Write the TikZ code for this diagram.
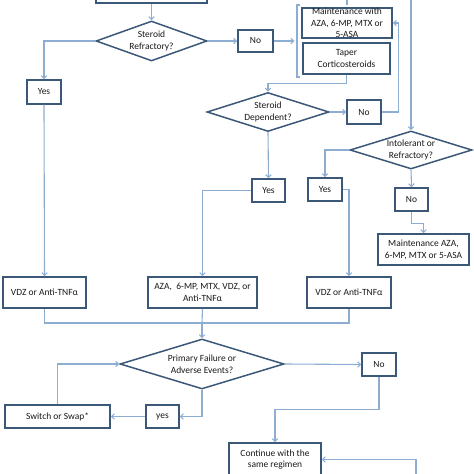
\documentclass[tikz,border=0pt]{standalone}
\usepackage{fontspec}
\setmainfont{Carlito}
\usetikzlibrary{shapes.geometric,arrows.meta}
\definecolor{boxc}{HTML}{3B5878}
\definecolor{linec}{HTML}{8EADD3}
\definecolor{txtc}{HTML}{1A1A1A}
\begin{document}
\begin{tikzpicture}[x=1bp,y=-1bp,
  font=\fontsize{9.5}{12}\selectfont, text=txtc,
  box/.style={draw=boxc, line width=1.5bp, rectangle, inner sep=0pt, align=center, fill=white},
  dia/.style={draw=boxc, line width=1.5bp, diamond, inner sep=0pt, align=center, fill=white},
  conn/.style={draw=linec, line width=1.1bp},
  arr/.style={conn, -{Straight Barb[length=2.8bp,width=5.5bp]}}
]
\useasboundingbox (0,0) rectangle (474,474);
% nodes
\node[box, minimum width=111bp, minimum height=24bp] (top) at (151.5,-9) {};
\node[dia, minimum width=111bp, minimum height=40bp, aspect=2.8] (d1) at (151.5,41) {Steroid\\Refractory?};
\node[box, minimum width=34bp, minimum height=24bp] (yesL) at (44,92) {Yes};
\node[box, minimum width=35bp, minimum height=22bp] (noA) at (255.5,41) {No};
\node[box, minimum width=90bp, minimum height=30bp,
  label={[align=center, inner sep=0pt, font=\fontsize{9.5}{11.5}\selectfont]center:Maintenance with\\AZA, 6-MP, MTX or\\5-ASA}] (m1) at (347,23) {};
\node[box, minimum width=87bp, minimum height=31bp] (taper) at (346.5,58.5) {Taper\\Corticosteroids};
\node[dia, minimum width=122bp, minimum height=39bp, aspect=3.1] (d2) at (268,112) {Steroid\\Dependent?};
\node[box, minimum width=34bp, minimum height=24bp] (noB) at (364,112) {No};
\node[dia, minimum width=122bp, minimum height=38bp, aspect=3.2] (d3) at (411,150) {Intolerant or\\Refractory?};
\node[box, minimum width=33bp, minimum height=23bp] (yesM) at (268.5,190.5) {Yes};
\node[box, minimum width=34bp, minimum height=23bp] (yesR) at (325,189.5) {Yes};
\node[box, minimum width=33bp, minimum height=23bp] (noC) at (411.5,199.5) {No};
\node[box, minimum width=91bp, minimum height=31bp] (m2) at (423.5,249.5) {Maintenance AZA,\\6-MP, MTX or 5-ASA};
\node[box, minimum width=83bp, minimum height=31bp] (vdzL) at (44.5,292.5) {VDZ or Anti-TNFα};
\node[box, minimum width=109bp, minimum height=31bp] (mid) at (202.5,292.5) {AZA,\ \ 6-MP, MTX, VDZ, or\\Anti-TNFα};
\node[box, minimum width=84bp, minimum height=31bp] (vdzR) at (349,292.5) {VDZ or Anti-TNFα};
\node[dia, minimum width=164bp, minimum height=50bp, aspect=3.3] (d4) at (202,364) {Primary Failure or\\Adverse Events?};
\node[box, minimum width=34bp, minimum height=23bp] (noD) at (379,364.5) {No};
\node[box, minimum width=33bp, minimum height=23bp] (yesB) at (162.5,416.5) {yes};
\node[box, minimum width=105bp, minimum height=23bp] (sw) at (57.5,416.5) {Switch or Swap*};
\node[box, minimum width=92bp, minimum height=33bp] (cont) at (275,459.5) {Continue with the\\same regimen};
% coordinates
\coordinate (brk) at (294.5,41);
\coordinate (topL) at (347,-5);
\coordinate (topLe) at (347,5);
\coordinate (topR) at (411,-5);
\coordinate (j) at (202,323);
\coordinate (cb) at (416,480);
% bracket
\draw[conn] (300,5) -- (297,5) -- (297,77) -- (300,77);
\draw[conn] (topL) -- (topLe);
% connectors
\draw[arr] (top.south) -- (d1.north);
\draw[arr] (d1.west) -| (yesL.north);
\draw[arr] (yesL.south) -- (vdzL.north);
\draw[arr] (d1.east) -- (noA.west);
\draw[arr] (noA.east) -- (brk);
\draw[arr] (taper.south) -- ++(0,9) -| (d2.north);
\draw[arr] (d2.east) -- (noB.west);
\draw[arr] (noB.east) -- ++(17,0) |- (m1.east);
\draw[arr] (topR) -- (d3.north);
\draw[arr] (d3.west) -| (yesR.north);
\draw[arr] (yesR.east) -| (vdzR.north);
\draw[arr] (d2.south) -- (yesM.north);
\draw[arr] (yesM.west) -| (mid.north);
\draw[arr] (d3.south) -- (noC.north);
\draw[arr] (noC.south) -- ++(0,12) -| (m2.north);
\draw[conn] (vdzL.south) |- (j);
\draw[conn] (mid.south) -- (j);
\draw[conn] (vdzR.south) |- (j);
\draw[arr] (j) -- (d4.north);
\draw[arr] (d4.east) -- (noD.west);
\draw[arr] (noD.south) -- ++(0,33) -| (cont.north);
\draw[arr] (cb) |- (cont.east);
\draw[arr] (d4.south) |- (yesB.east);
\draw[arr] (yesB.west) -- (sw.east);
\draw[arr] (sw.north) |- (d4.west);
\end{tikzpicture}
\end{document}
